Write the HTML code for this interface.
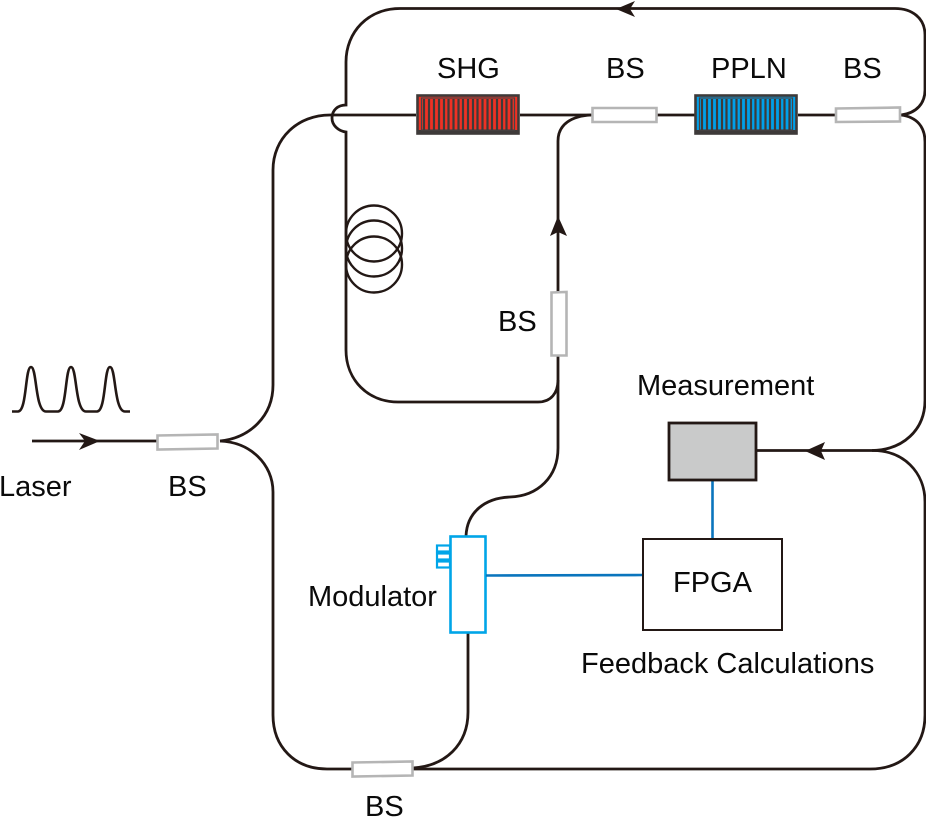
<!DOCTYPE html>
<html><head><meta charset="utf-8"><style>
html,body{margin:0;padding:0;background:#fff;width:926px;height:818px;overflow:hidden}
svg{display:block}
text{font-family:"Liberation Sans",Arial,sans-serif;font-size:29px;fill:#0a0a0a}
</style></head><body>
<svg width="926" height="818" viewBox="0 0 926 818" xmlns="http://www.w3.org/2000/svg">
<g fill="none" stroke="#231815" stroke-width="2.800">
<!-- top loop -->
<path d="M901 115 C917 113 925 103 925 90 L925 35 C925 18 912 8.500 895 8.500 L400 8.500 C368 8.500 346 32 346 62 L346 105 C338 105 332 110 332 118 C332 125 338 131 346 132 L346 350 C346 380 368 402 398 402 L538 402 C551 402 558 393 558 380"/>
<!-- main right -->
<path d="M901 115 C917 117 925 127 925 142 L925 400 C925 430 903 450 872 450.500 L756 450.500"/>
<path d="M872 450.500 C903 450 925 472 925 502 L925 715 C925 747 903 769 870 769 L413 769"/>
<path d="M413 768 C445 766 468 745 468 712 L468 633"/>
<path d="M352 769 L327 769 C295 769 273 747 273 715 L273 492 C273 464 250 442 220 441"/>
<path d="M220 441 C250 438 273 416 273 385 L273 170 C273 138 298 115 330 115 L416 115"/>
<path d="M520 115 L592 115"/>
<path d="M657 115 L695 115"/>
<path d="M798 115 L836 115"/>
<path d="M591 115 C572 116 558 124 558 141 L558 292"/>
<path d="M558 356 L558 448 C558 477 538 496 510 497 C485 498 467 512 466 536"/>
<path d="M32 441 L157 441"/>
<!-- coil -->
<circle cx="374" cy="233.500" r="28" stroke-width="2.400"/>
<circle cx="374" cy="248.500" r="28" stroke-width="2.400"/>
<circle cx="374" cy="264.500" r="28" stroke-width="2.400"/>
<!-- pulses -->
<path stroke-width="2.600" d="M12 411.500 L18 411.500 C27 411.500 25 367 31 367 C37 367 35 411.500 46 411.500 L58 411.500 C67 411.500 65 367 71 367 C77 367 75 411.500 86 411.500 L97 411.500 C106 411.500 104 367 110 367 C116 367 114 411.500 125 411.500 L130 411.500"/>
</g>
<!-- arrowheads -->
<g fill="#231815" stroke="none">
<polygon points="616,9 635,1 630,9 635,17"/>
<polygon points="558,216 550,236 558,232 567,236"/>
<polygon points="100,441 79,433 85,441 79,450"/>
<polygon points="805,451 825,442 821,451 825,460"/>
</g>
<!-- beam splitters -->
<g fill="#fff" stroke="#b5b5b5" stroke-width="2.600">
<polygon points="157.500,435.500 217.500,434.500 217.500,448.500 157.500,449.500"/>
<polygon points="352.500,762.500 412.500,761.500 412.500,775.500 352.500,776.500"/>
<polygon points="592.500,108 656.500,108 656.500,122 592.500,122"/>
<polygon points="836,108.500 900,107.500 900,121.500 836,122"/>
<polygon points="551.500,292.500 566.500,292 566.500,355.500 551.500,355.500"/>
</g>
<!-- SHG -->
<rect x="417.500" y="95.500" width="101" height="38" fill="#ee3124" stroke="#3e3a39" stroke-width="2.600"/>
<rect x="417.500" y="130" width="101" height="3.500" fill="#3e3a39"/>
<rect x="421.500" y="98" width="93" height="32" fill="none" stroke="#4a4444" stroke-width="1.200"/>
<path stroke="#3e3a39" stroke-width="2.200" fill="none" d="M424 99V130M429 99V130M434 99V130M439 99V130M444 99V130M448.500 99V130M453.500 99V130M458.500 99V130M463 99V130M468 99V130M473 99V130M477.500 99V130M482.500 99V130M487.500 99V130M492 99V130M497 99V130M502 99V130M506.500 99V130M511.500 99V130"/>
<!-- PPLN -->
<rect x="695.500" y="95.500" width="101" height="38" fill="#00a0e9" stroke="#3e3a39" stroke-width="2.600"/>
<rect x="695.500" y="130" width="101" height="3.500" fill="#3e3a39"/>
<rect x="699.500" y="98" width="93" height="32" fill="none" stroke="#4a4444" stroke-width="1.200"/>
<path stroke="#3e3a39" stroke-width="2.200" fill="none" d="M702 99V130M707 99V130M712 99V130M717 99V130M722 99V130M726.500 99V130M731.500 99V130M736.500 99V130M741 99V130M746 99V130M751 99V130M755.500 99V130M760.500 99V130M765.500 99V130M770 99V130M775 99V130M780 99V130M784.500 99V130M789.500 99V130"/>
<!-- modulator -->
<rect x="450.500" y="536.500" width="35" height="96" fill="#fff" stroke="#00a5e8" stroke-width="2.600"/>
<g fill="#fff" stroke="#00a5e8" stroke-width="2.200">
<rect x="437" y="545.500" width="13" height="6"/>
<rect x="437" y="553.500" width="13" height="6"/>
<rect x="437" y="561.500" width="13" height="6"/>
</g>
<path d="M486 575.500 L642 575" stroke="#0a75bd" stroke-width="2.600" fill="none"/>
<path d="M712.500 481 L712.500 540" stroke="#0a75bd" stroke-width="2.600" fill="none"/>
<!-- measurement / FPGA -->
<rect x="669" y="423" width="87" height="57" fill="#c9caca" stroke="#231815" stroke-width="2.800"/>
<rect x="643" y="539" width="139" height="91" fill="#fff" stroke="#231815" stroke-width="2"/>
<!-- labels -->
<text x="437" y="78">SHG</text>
<text x="606" y="78">BS</text>
<text x="711" y="78">PPLN</text>
<text x="843" y="78">BS</text>
<text x="498" y="331">BS</text>
<text x="637" y="395">Measurement</text>
<text x="-1" y="496">Laser</text>
<text x="168" y="496">BS</text>
<text x="308" y="606">Modulator</text>
<text x="673" y="592">FPGA</text>
<text x="581" y="673">Feedback Calculations</text>
<text x="365" y="816">BS</text>
</svg>
</body></html>
